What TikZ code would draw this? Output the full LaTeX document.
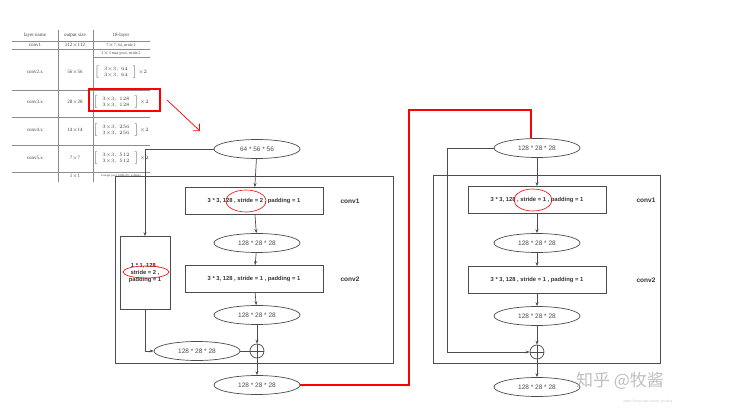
\documentclass[tikz,border=0pt]{standalone}
\usepackage{fontspec}
\setmainfont{Liberation Serif}
\newfontfamily\sfx{Liberation Sans}
\newfontfamily\cjk{Noto Sans CJK SC}
\usetikzlibrary{arrows.meta,shapes.geometric}
\begin{document}
\begin{tikzpicture}[x=1pt,y=-1pt,
 ln/.style={draw=black!70,line width=0.7pt},
 arr/.style={ln,-{Stealth[length=4pt,width=3pt]}},
 ell/.style={ellipse,ln,minimum width=86pt,minimum height=19pt,inner sep=0pt,font=\sfx\fontsize{6.5}{7}\selectfont,text=black!70},
 blk/.style={rectangle,ln,minimum width=138pt,minimum height=27pt,inner sep=0pt,font=\sfx\bfseries\fontsize{5.8}{7}\selectfont,text=black!80},
 lab/.style={font=\sfx\bfseries\fontsize{6.5}{7}\selectfont,text=black!80},
 plus/.style={circle,ln,minimum size=14pt,inner sep=0pt},
 hl/.style={draw=red,line width=0.6pt},
 tb/.style={font=\fontsize{5}{6}\selectfont,text=black!75,inner sep=0pt},
 tl/.style={draw=black!45,line width=0.4pt},
 red/.style={draw=red,line width=1.3pt}]
\useasboundingbox (0,0) rectangle (737,417);
% ---- table ----
\draw[tl] (12,41)--(150,41) (12,49)--(150,49) (93,57)--(150,57) (12,90)--(150,90) (12,117)--(150,117) (12,145)--(150,145) (12,172)--(150,172);
\draw[tl] (58,30)--(58,182) (93,30)--(93,182);
\node[tb] (h1) at (35,35) {layer name};
\node[tb] (h2) at (75,35) {output size};
\node[tb] (h3) at (121,35) {18-layer};
\node[tb] (c1) at (35,45) {conv1};
\node[tb] (o1) at (75,45) {112$\times$112};
\node[tb,font=\fontsize{4}{5}\selectfont] (s1) at (121,45) {7$\times$7, 64, stride 2};
\node[tb,font=\fontsize{4}{5}\selectfont] (mp) at (121,53) {3$\times$3 max pool, stride 2};
\foreach \n/\o/\c/\y in {conv2.x/56$\times$56/64/72, conv3.x/28$\times$28/128/102, conv4.x/14$\times$14/256/130, conv5.x/7$\times$7/512/158}{
 \node[tb] at (35,\y) {\n};
 \node[tb] at (75,\y) {\o};
 \node[tb] at (121,\y) {$\left[\begin{array}{c}3{\times}3,\,\c\\3{\times}3,\,\c\end{array}\right]{\times}2$};
}
\node[tb] (o6) at (75,176) {1$\times$1};
\node[tb,font=\fontsize{3}{4}\selectfont] (s6) at (121,176) {average pool, 1000-d fc, softmax};
\draw[red] (89,89) rectangle (160,111);
\coordinate (ra) at (167,100);
\coordinate (rb) at (200,131);
\draw[draw=red,line width=0.7pt,-{Straight Barb[length=5pt]}] (ra)--(rb);
% ---- left block ----
\draw[ln] (115,176) rectangle (393,363);
\node[ell] (in) at (257,149) {64 * 56 * 56};
\node[blk] (b1) at (254,201) {3 * 3, 128 , stride = 2 , padding = 1};
\node[lab] at (350,201) {conv1};
\node[ell] (e1) at (257,243) {128 * 28 * 28};
\node[blk] (b2) at (254,279) {3 * 3, 128 , stride = 1 , padding = 1};
\node[lab] at (350,279) {conv2};
\node[ell] (e2) at (257,315) {128 * 28 * 28};
\node[plus] (p) at (257,351) {};
\draw[ln] (p.north)--(p.south) (p.west)--(p.east);
\node[ell] (es) at (197,351) {128 * 28 * 28};
\node[rectangle,ln,minimum width=50pt,minimum height=73pt,align=center,font=\sfx\bfseries\fontsize{5.8}{7}\selectfont,text=black!80] (sb) at (145,273) {1 * 1, 128 ,\\stride = 2 ,\\padding = 1};
\node[ell] (out) at (257,385) {128 * 28 * 28};
\draw[arr] (in)--(b1); \draw[arr] (b1)--(e1); \draw[arr] (e1)--(b2); \draw[arr] (b2)--(e2);
\draw[arr] (e2)--(p); \draw[arr] (p)--(out); \draw[ln] (es)--(p);
\draw[arr] (in.west) -| (sb.north);
\draw[arr] (sb.south) |- (es.west);
\draw[hl] (246,201) ellipse (20pt and 11pt);
\draw[hl] (146,272) ellipse (23pt and 6pt);
% ---- right block ----
\draw[ln] (433,175) rectangle (660,363);
\node[ell] (in2) at (537,148) {128 * 28 * 28};
\node[blk] (c1b) at (537,200) {3 * 3, 128 , stride = 1 , padding = 1};
\node[lab] at (646,200) {conv1};
\node[ell] (f1) at (537,243) {128 * 28 * 28};
\node[blk] (c2b) at (537,280) {3 * 3, 128 , stride = 1 , padding = 1};
\node[lab] at (646,280) {conv2};
\node[ell] (f2) at (537,316) {128 * 28 * 28};
\node[plus] (p2) at (537,352) {};
\draw[ln] (p2.north)--(p2.south) (p2.west)--(p2.east);
\node[ell] (out2) at (537,387) {128 * 28 * 28};
\draw[arr] (in2)--(c1b); \draw[arr] (c1b)--(f1); \draw[arr] (f1)--(c2b); \draw[arr] (c2b)--(f2);
\draw[arr] (f2)--(p2); \draw[arr] (p2)--(out2);
\coordinate (k2) at (447,148);
\draw[arr] (in2.west) -- (k2) |- (p2.west);
\draw[hl] (533,200) ellipse (19pt and 11pt);
% ---- red link ----
\coordinate (r1) at (409,385);
\coordinate (r2) at (409,110);
\coordinate (r3) at (531,110);
\draw[red] (out.east) -- (r1) -- (r2) -- (r3) -- (in2.north -| r3);
% watermark
\node[font=\cjk\fontsize{17}{18}\selectfont,text=black!25] (wm) at (620,381) {知乎 @牧酱};
\node[font=\sfx\fontsize{3.5}{4}\selectfont,text=black!20] (wm2) at (648,402) {https://blog.csdn.net/br\_pooling};
\end{tikzpicture}
\end{document}
